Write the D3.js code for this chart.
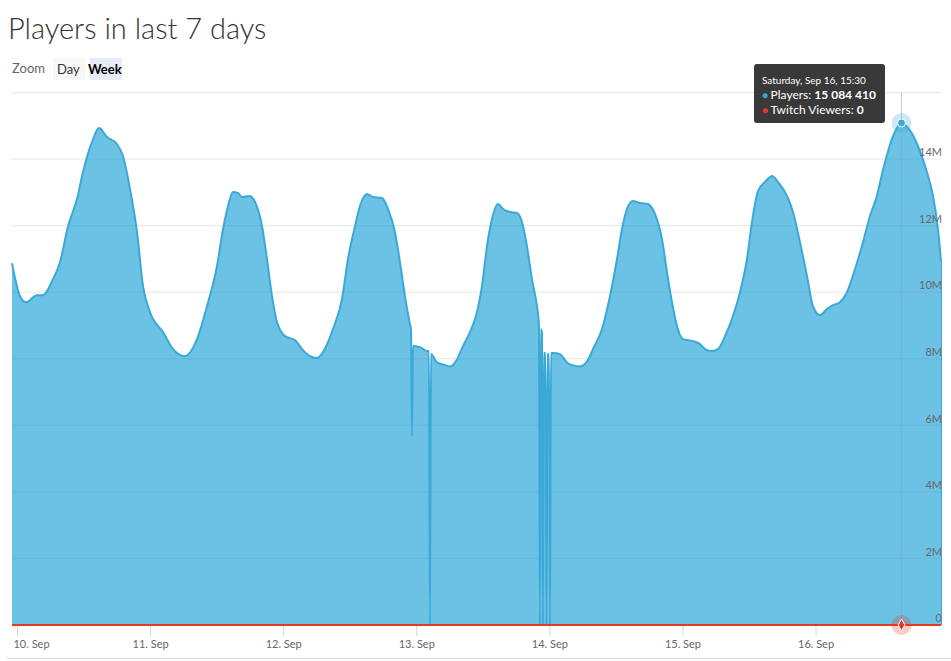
<!DOCTYPE html>
<html><head><meta charset="utf-8">
<script src="https://cdn.jsdelivr.net/npm/d3@7"></script>
<style>body{margin:0;background:#fff;font-family:Lato,"Open Sans",sans-serif}svg{display:block}</style>
</head><body><svg id="c" width="951" height="661"></svg>
<script>
// Hours since 10 Sep 2017 00:00 for each Players sample
const hoursSinceSep10 = [-0.90,0.54,1.62,3.61,4.69,6.49,7.75,9.20,10.82,11.90,13.52,14.79,16.23,18.03,19.11,20.38,21.64,22.72,23.98,26.33,28.13,30.29,32.46,34.26,36.06,37.15,38.05,38.95,39.85,40.57,42.01,42.92,44.18,45.08,45.98,46.88,48.33,50.13,51.39,52.29,54.10,55.18,56.98,58.60,59.68,60.95,61.85,63.11,64.19,65.82,66.90,68.16,69.06,69.96,70.86,71.05,71.23,71.41,72.67,73.94,74.29,74.47,74.65,75.74,76.82,78.08,79.34,80.42,81.69,82.95,83.85,84.75,85.65,86.73,87.64,88.90,90.16,91.06,91.96,92.86,93.76,94.12,94.30,94.48,94.66,94.84,95.02,95.29,95.48,95.66,95.93,96.11,96.29,96.65,97.91,99.18,100.26,101.52,102.78,103.86,105.49,106.93,108.19,109.09,109.99,111.08,112.34,113.78,115.04,116.31,117.21,118.11,119.01,120.09,121.90,123.16,124.06,125.32,126.41,127.67,129.11,130.37,131.63,132.54,133.62,134.88,136.14,137.22,138.85,139.93,141.19,142.45,143.53,144.80,146.06,147.14,148.40,149.67,151.11,152.55,153.81,154.89,156.34,157.96,159.50,160.85,162.48,163.92,165.18,166.08,166.62];
// Players, in millions
const playersM = [10.87,9.88,9.70,9.91,9.91,10.39,10.90,11.98,12.80,13.61,14.51,14.93,14.66,14.45,14.09,13.10,11.81,10.19,9.40,8.80,8.29,8.08,8.59,9.58,10.78,11.89,12.59,13.01,12.98,12.86,12.89,12.71,11.99,10.99,9.88,9.10,8.68,8.56,8.29,8.14,8.02,8.20,8.89,9.79,10.99,11.98,12.59,12.95,12.86,12.83,12.50,11.80,10.90,9.88,9.04,8.89,5.67,8.38,8.35,8.23,8.23,0,8.14,7.89,7.83,7.77,7.98,8.38,8.80,9.40,10.18,11.38,12.20,12.65,12.50,12.41,12.38,12.11,11.38,10.39,9.58,9.04,0,8.89,8.80,0,8.17,8.17,0,8.14,8.14,0,8.17,8.17,8.14,7.89,7.80,7.77,7.92,8.29,8.89,9.88,10.99,11.89,12.50,12.74,12.68,12.65,12.35,11.59,10.60,9.70,8.98,8.59,8.53,8.44,8.29,8.23,8.29,8.68,9.28,10.00,10.99,12.11,13.04,13.31,13.49,13.31,12.89,12.41,11.50,10.49,9.58,9.31,9.49,9.61,9.70,10.00,10.69,11.50,12.29,12.80,13.79,14.69,15.08441,14.90,14.39,13.70,12.89,11.89,10.93];
// Twitch Viewers series (flat at zero)
const twitchHours = [-0.90, 166.62];
const twitchViewers = [0, 0];
const yTicksM = [0,2,4,6,8,10,12,14,16];
const xTickFormat = "%-d. %b";
const hoverHour = 159.50;
const tooltipTitle = "Saturday, Sep 16, 15:30";
const tooltipPlayers = 15084410;
const tooltipTwitch = 0;
const zoomButtons = ["Day","Week"];

const base = new Date(2017, 8, 10, 0, 0);
const toDate = h => new Date(base.getTime() + h * 3600e3);
const players = hoursSinceSep10.map((h, i) => ({t: toDate(h), v: playersM[i]}));
const twitch = twitchHours.map((h, i) => ({t: toDate(h), v: twitchViewers[i]}));
const hoverIndex = hoursSinceSep10.indexOf(hoverHour);

const L = 12, R = 941, T = 92.5, B = 625;
const svg = d3.select("#c");
const x = d3.scaleTime().domain([players[0].t, players[players.length-1].t]).range([L, R]);
const y = d3.scaleLinear().domain([0, 16]).range([B, T]);

const blue = "#3ba9d7", fill = "#6cc2e4", red = "#e5391d";

// title
svg.append("text").attr("x", 8).attr("y", 39).attr("font-size", 29).attr("font-weight", 300)
  .attr("fill", "#333").text("Players in last 7 days");

// zoom buttons
svg.append("text").attr("x", 12).attr("y", 73).attr("font-size", 13).attr("fill", "#666").text("Zoom");
svg.append("rect").attr("x", 53).attr("y", 58).attr("width", 32).attr("height", 22).attr("fill", "#f7f7f7");
svg.append("text").attr("x", 57).attr("y", 74).attr("font-size", 13).attr("fill", "#333").text(zoomButtons[0]);
svg.append("rect").attr("x", 90).attr("y", 58).attr("width", 32).attr("height", 22).attr("fill", "#e6ebf5");
svg.append("text").attr("x", 88).attr("y", 74).attr("font-size", 13).attr("font-weight", 700).attr("fill", "#000").text(zoomButtons[1]);

// gridlines
svg.append("g").selectAll("line").data(yTicksM).join("line")
  .attr("x1", L).attr("x2", R).attr("y1", d => y(d)).attr("y2", d => y(d))
  .attr("stroke", "#e6e6e6").attr("stroke-width", 1);

// area
const area = d3.area().x(d => x(d.t)).y0(B).y1(d => y(d.v)).curve(d3.curveMonotoneX);
const line = d3.line().x(d => x(d.t)).y(d => y(d.v)).curve(d3.curveMonotoneX);
svg.append("clipPath").attr("id", "areaClip").append("path").datum(players).attr("d", area);
svg.append("path").datum(players).attr("d", area).attr("fill", fill);

// gridlines faintly visible through area
svg.append("g").attr("clip-path", "url(#areaClip)").selectAll("line").data(yTicksM.filter(d => d > 0)).join("line")
  .attr("x1", L).attr("x2", R).attr("y1", d => y(d)).attr("y2", d => y(d))
  .attr("stroke", "#4aa3c8").attr("stroke-opacity", 0.25).attr("stroke-width", 1);

svg.append("path").datum(players).attr("d", line).attr("fill", "none").attr("stroke", blue)
  .attr("stroke-width", 2).attr("stroke-linejoin", "round");
svg.append("line").attr("x1", R + 0.5).attr("x2", R + 0.5).attr("y1", y(playersM[playersM.length-1])).attr("y2", B)
  .attr("stroke", blue).attr("stroke-width", 1);

// crosshair
const hx = x(players[hoverIndex].t);
svg.append("line").attr("x1", hx).attr("x2", hx).attr("y1", T).attr("y2", B)
  .attr("stroke", "#8fa6b3").attr("stroke-opacity", 0.55).attr("stroke-width", 1);

// twitch line
svg.append("path").datum(twitch).attr("d", d3.line().x(d => x(d.t)).y(d => y(d.v)))
  .attr("stroke", red).attr("stroke-width", 2).attr("fill", "none");

// x axis
const xAxis = d3.axisBottom(x).ticks(d3.timeDay.every(1)).tickFormat(d3.timeFormat(xTickFormat))
  .tickSize(10).tickSizeOuter(0).tickPadding(4);
const gx = svg.append("g").attr("transform", `translate(0,${B + 1})`).call(xAxis);
gx.select(".domain").remove();
gx.selectAll(".tick line").attr("stroke", "#ccd6eb");
gx.selectAll(".tick text").attr("fill", "#666").attr("font-size", 11).attr("font-family", "Lato, sans-serif");
gx.selectAll(".tick").filter((d, i) => i === 0).select("text").attr("text-anchor", "start").attr("x", -4);

// y labels
const yAxis = d3.axisLeft(y).tickValues(yTicksM.filter(d => d < 16)).tickSize(0).tickPadding(0)
  .tickFormat(d => d === 0 ? "0" : d + "M");
const gy = svg.append("g").attr("transform", `translate(${R + 1},0)`).call(yAxis);
gy.select(".domain").remove();
gy.selectAll(".tick text").attr("fill", "#666").attr("font-size", 11).attr("font-family", "Lato, sans-serif")
  .attr("dy", "-0.3em");

// hover markers
const hy = y(players[hoverIndex].v);
svg.append("circle").attr("cx", hx).attr("cy", hy).attr("r", 10).attr("fill", blue).attr("fill-opacity", 0.25);
svg.append("circle").attr("cx", hx).attr("cy", hy).attr("r", 4).attr("fill", blue).attr("stroke", "#fff").attr("stroke-width", 1);
svg.append("circle").attr("cx", hx).attr("cy", y(0)).attr("r", 10).attr("fill", red).attr("fill-opacity", 0.25);
svg.append("path").attr("d", d3.symbol(d3.symbolDiamond, 40)()).attr("transform", `translate(${hx},${y(0)})`)
  .attr("fill", red).attr("stroke", "#fff").attr("stroke-width", 1);

// tooltip
const tt = svg.append("g").attr("transform", "translate(754,64)");
tt.append("rect").attr("width", 131).attr("height", 59).attr("rx", 3).attr("fill", "#333").attr("fill-opacity", 0.97);
tt.append("text").attr("x", 8).attr("y", 20).attr("font-size", 10).attr("fill", "#fff").text(tooltipTitle);
const fmt = v => d3.format(",")(v).replace(/,/g, " ");
const t1 = tt.append("text").attr("x", 8).attr("y", 35).attr("font-size", 12).attr("fill", "#fff");
t1.append("tspan").attr("fill", blue).attr("font-size", 10).text("● ");
t1.append("tspan").text("Players: ");
t1.append("tspan").attr("font-weight", 700).text(fmt(tooltipPlayers));
const t2 = tt.append("text").attr("x", 8).attr("y", 50).attr("font-size", 12).attr("fill", "#fff");
t2.append("tspan").attr("fill", red).attr("font-size", 10).text("● ");
t2.append("tspan").text("Twitch Viewers: ");
t2.append("tspan").attr("font-weight", 700).text(fmt(tooltipTwitch));

// bottom border
svg.append("line").attr("x1", 7).attr("x2", 951).attr("y1", 658.5).attr("y2", 658.5).attr("stroke", "#ddd");
</script></body></html>
